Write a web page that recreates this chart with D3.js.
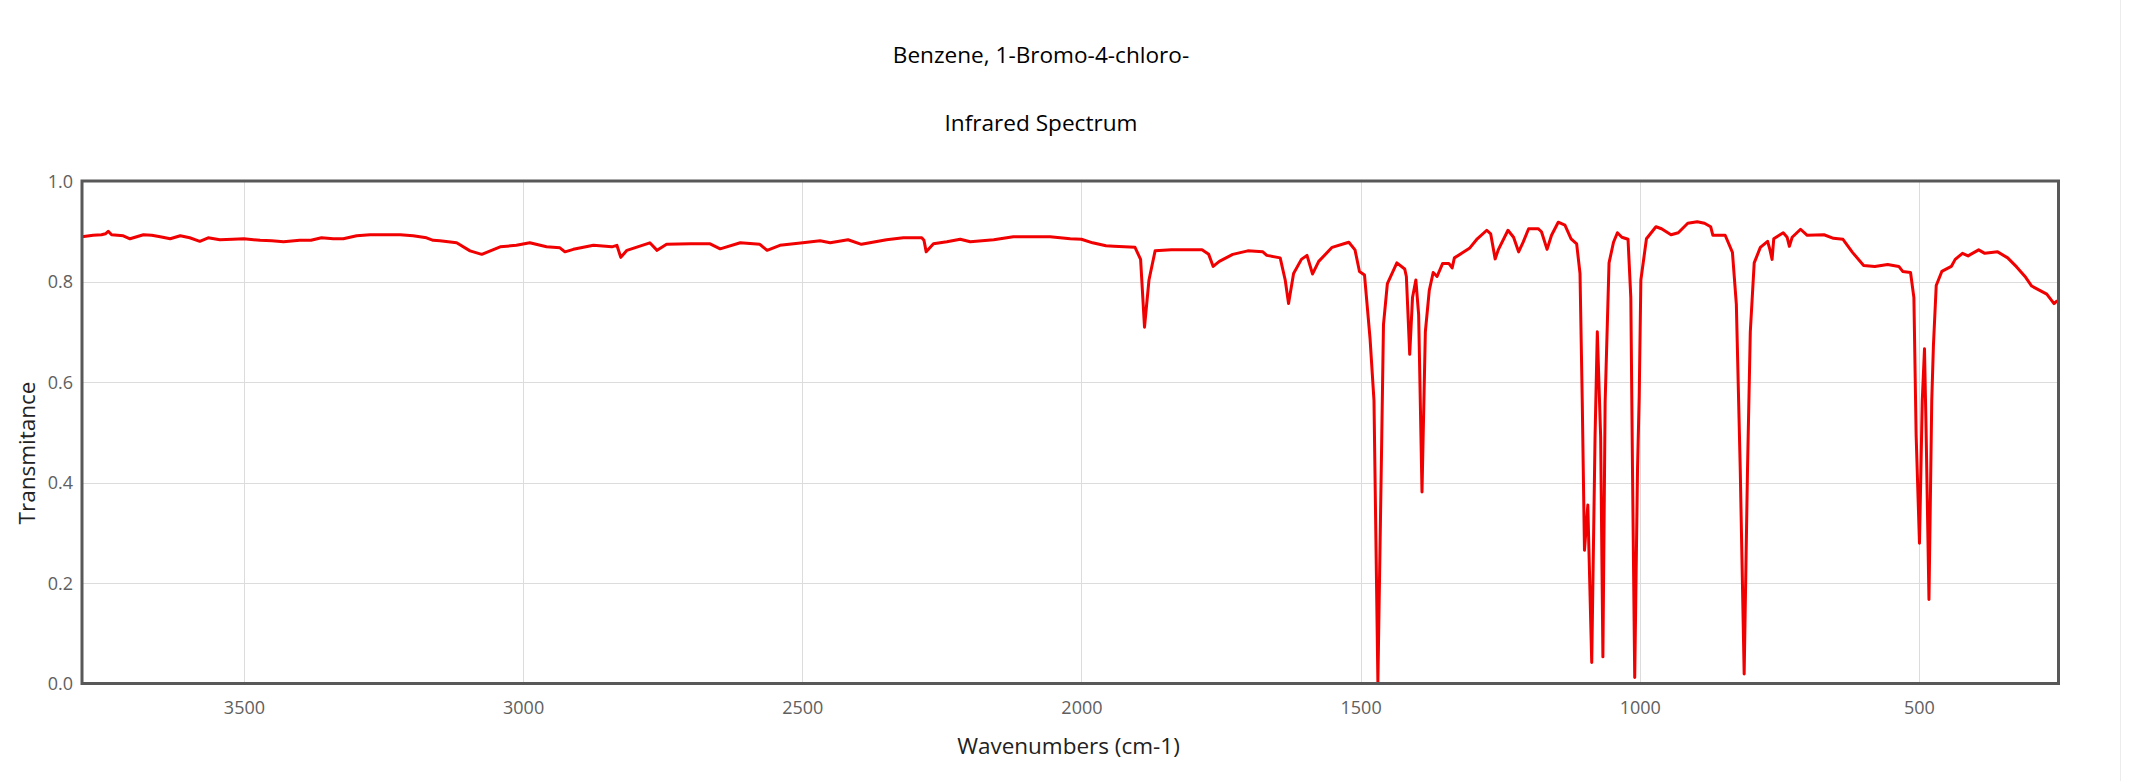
<!DOCTYPE html>
<html>
<head>
<meta charset="utf-8">
<script src="https://cdn.jsdelivr.net/npm/d3@7"></script>
<style>
  html, body { margin: 0; padding: 0; background: #fff; }
  svg { display: block; }
  text { font-family: "Open Sans", "Noto Sans", sans-serif; }
</style>
</head>
<body>
<svg id="chart" width="2137" height="781"></svg>
<script>
// ---- data ----
const wavenumbers = [
  3790,3770,3755,3748,3743,3737,3716,3704,3680,3665,3650,3632,3614,3597,3579,3564,3543,3520,3500,3471,
  3450,3429,3400,3380,3361,3340,3322,3298,3274,3220,3197,3173,3161,3149,3119,3095,3074,3041,3012,2988,
  2958,2934,2925,2910,2874,2841,2832,2825,2814,2773,2760,2743,2700,2665,2647,2611,2576,2563,2540,2499,
  2468,2450,2418,2394,2349,2319,2286,2282,2278,2265,2241,2217,2199,2157,2122,2079,2056,2020,2000,1980,
  1956,1942,1904,1894,1887,1879,1868,1839,1784,1772,1764,1753,1729,1702,1675,1668,1644,1635,1629,1620,
  1606,1596,1586,1575,1551,1527,1521,1510,1502,1493,1483,1476,1469,1462,1459,1452,1435,1421,1418,1412,
  1407,1401,1396,1390,1384,1377,1370,1363,1353,1342,1336,1332,1305,1291,1274,1267,1259,1253,1236,1226,
  1217,1209,1199,1182,1176,1166,1158,1146,1134,1123,1113,1107,1103,1099,1093,1086,1080,1076,1070,1066,
  1062,1055,1047,1040,1032,1021,1016,1013,1009,1004,1001,998,988,971,961,944,931,914,897,884,
  873,869,847,834,827,820,813,807,802,795,784,771,767,763,760,743,736,732,727,712,
  700,670,653,636,619,599,579,556,536,529,515,509,505,499,494,490,487,482,477,474,
  469,459,442,435,422,412,393,382,359,341,325,310,298,271,258,252
];
const transmittance = [
  0.889,0.892,0.893,0.895,0.900,0.893,0.891,0.885,0.893,0.892,0.889,0.885,0.891,0.887,0.880,0.887,0.883,0.884,0.885,0.882,
  0.881,0.879,0.882,0.882,0.887,0.885,0.885,0.891,0.893,0.893,0.891,0.887,0.882,0.881,0.877,0.861,0.854,0.869,0.872,0.877,
  0.869,0.867,0.859,0.864,0.872,0.869,0.872,0.848,0.862,0.877,0.862,0.874,0.875,0.875,0.865,0.877,0.874,0.862,0.872,0.877,
  0.881,0.877,0.883,0.874,0.883,0.887,0.887,0.882,0.859,0.875,0.879,0.884,0.879,0.883,0.889,0.889,0.889,0.885,0.884,0.877,
  0.871,0.870,0.868,0.844,0.709,0.803,0.861,0.863,0.863,0.854,0.830,0.840,0.854,0.861,0.859,0.852,0.847,0.803,0.756,0.816,
  0.844,0.852,0.815,0.840,0.868,0.876,0.878,0.863,0.820,0.813,0.686,0.563,0.002,0.495,0.714,0.796,0.837,0.825,0.810,0.655,
  0.768,0.803,0.734,0.381,0.700,0.782,0.818,0.810,0.836,0.836,0.827,0.847,0.866,0.885,0.902,0.895,0.845,0.864,0.902,0.888,
  0.859,0.878,0.905,0.905,0.899,0.864,0.892,0.918,0.912,0.885,0.875,0.816,0.563,0.265,0.355,0.042,0.494,0.700,0.490,0.053,
  0.560,0.837,0.878,0.897,0.888,0.884,0.768,0.426,0.012,0.426,0.570,0.803,0.885,0.909,0.905,0.893,0.897,0.916,0.919,0.916,
  0.909,0.892,0.892,0.858,0.755,0.426,0.019,0.426,0.700,0.837,0.868,0.880,0.864,0.844,0.885,0.897,0.888,0.870,0.888,0.904,
  0.892,0.893,0.886,0.884,0.858,0.832,0.830,0.834,0.830,0.820,0.818,0.768,0.495,0.279,0.563,0.666,0.495,0.167,0.563,0.673,
  0.792,0.820,0.830,0.844,0.856,0.851,0.863,0.856,0.859,0.847,0.829,0.810,0.791,0.775,0.756,0.762
];
const xTicks = [3500, 3000, 2500, 2000, 1500, 1000, 500];
const yTicks = [0.0, 0.2, 0.4, 0.6, 0.8, 1.0];
const xDomain = [3790, 250];
const yDomain = [0, 1];
const titleLines = ["Benzene, 1-Bromo-4-chloro-", "Infrared Spectrum"];
const xTitle = "Wavenumbers (cm-1)";
const yTitle = "Transmitance";

// ---- layout ----
const svg = d3.select("#chart");
const L = 82, R = 2058.5, T = 181, B = 683.5;
const x = d3.scaleLinear().domain(xDomain).range([L, R]);
const y = d3.scaleLinear().domain(yDomain).range([B, T]);

// faint page-edge line
svg.append("line").attr("x1", 2120.5).attr("x2", 2120.5).attr("y1", 0).attr("y2", 781)
  .attr("stroke", "#ececec").attr("stroke-width", 1);

// grid
const grid = svg.append("g");
grid.selectAll("line.vx").data(xTicks).join("line")
  .attr("x1", d => Math.round(x(d)) + 0.5).attr("x2", d => Math.round(x(d)) + 0.5)
  .attr("y1", T).attr("y2", B).attr("stroke", "#dcdcdc").attr("stroke-width", 1);
grid.selectAll("line.hy").data(yTicks.filter(d => d > 0 && d < 1)).join("line")
  .attr("x1", L).attr("x2", R)
  .attr("y1", d => Math.round(y(d)) + 0.5).attr("y2", d => Math.round(y(d)) + 0.5)
  .attr("stroke", "#dcdcdc").attr("stroke-width", 1);

// spectrum
const data = wavenumbers.map((w, i) => [w, transmittance[i]]);
svg.append("path").datum(data)
  .attr("fill", "none").attr("stroke", "#f00000").attr("stroke-width", 3)
  .attr("stroke-linejoin", "round")
  .attr("d", d3.line().x(d => x(d[0])).y(d => y(d[1])));

// frame
svg.append("rect").attr("x", L).attr("y", T).attr("width", R - L).attr("height", B - T)
  .attr("fill", "none").attr("stroke", "#585858").attr("stroke-width", 3);

// axes labels via d3 axes (no tick lines)
const xAxis = d3.axisBottom(x).tickValues(xTicks).tickSize(0).tickPadding(0).tickFormat(d3.format("d"));
const gx = svg.append("g").attr("transform", `translate(0,${B})`).call(xAxis);
gx.select(".domain").remove();
gx.selectAll("text").attr("y", 30.5).attr("dy", null)
  .attr("font-size", 18).attr("fill", "#606060").attr("font-family", '"Open Sans", sans-serif');

const yAxis = d3.axisLeft(y).tickValues(yTicks).tickSize(0).tickPadding(0).tickFormat(d3.format(".1f"));
const gy = svg.append("g").attr("transform", `translate(73,0)`).call(yAxis);
gy.select(".domain").remove();
gy.selectAll("text").attr("x", 0).attr("dy", "0.36em")
  .attr("font-size", 18).attr("fill", "#606060").attr("font-family", '"Open Sans", sans-serif');

// titles
svg.append("text").attr("x", 1041).attr("y", 62.5).attr("text-anchor", "middle")
  .attr("font-size", 22.6).attr("fill", "#000").text(titleLines[0]);
svg.append("text").attr("x", 1041).attr("y", 130.5).attr("text-anchor", "middle")
  .attr("font-size", 22.6).attr("fill", "#000").text(titleLines[1]);
svg.append("text").attr("x", 1068.5).attr("y", 754).attr("text-anchor", "middle")
  .attr("font-size", 22.5).attr("fill", "#222").text(xTitle);
svg.append("text").attr("transform", "translate(35,453) rotate(-90)").attr("text-anchor", "middle")
  .attr("font-size", 22.5).attr("fill", "#222").text(yTitle);
</script>
</body>
</html>
